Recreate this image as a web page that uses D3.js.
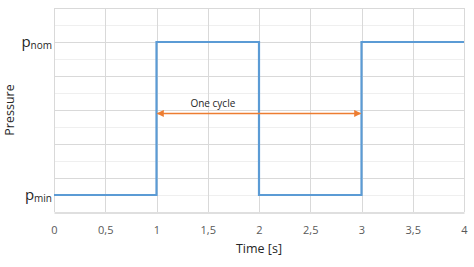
<!DOCTYPE html>
<html lang="en">
<head>
<meta charset="UTF-8">
<script src="https://cdnjs.cloudflare.com/ajax/libs/d3/7.8.5/d3.min.js"></script>
<style>
  body { margin: 0; background: #fff; }
  text { font-family: "Open Sans", "Noto Sans", sans-serif; }
</style>
</head>
<body>
<script>
    // data
    var times = [0, 1, 2, 3, 4];
    var levels = ['min', 'nom', 'min', 'nom', 'nom'];
    var xTicks = [0, 0.5, 1, 1.5, 2, 2.5, 3, 3.5, 4];
    var levelValue = {min: 1, nom: 10};
    var cycle = [1, 3];
    var cycleY = 5.8;

    var width = 474, height = 267;
    var pLeft = 54, pRight = 464, pTop = 8, pBottom = 212;

    var x = d3.scaleLinear().domain([0, 4]).range([pLeft, pRight]);
    var y = d3.scaleLinear().domain([0, 12]).range([pBottom, pTop]);

    var svg = d3.select('body').append('svg')
        .attr('width', width).attr('height', height);

    // minor horizontal grid
    svg.append('g').selectAll('line')
        .data(d3.range(1, 12, 2))
        .enter().append('line')
        .attr('x1', pLeft).attr('x2', pRight)
        .attr('y1', d => y(d) + 0.5).attr('y2', d => y(d) + 0.5)
        .attr('stroke', '#efefef').attr('stroke-width', 1);

    // major horizontal grid
    svg.append('g').selectAll('line')
        .data(d3.range(2, 13, 2))
        .enter().append('line')
        .attr('x1', pLeft).attr('x2', pRight)
        .attr('y1', d => y(d) + 0.5).attr('y2', d => y(d) + 0.5)
        .attr('stroke', '#d9d9d9').attr('stroke-width', 1);

    // vertical grid
    svg.append('g').selectAll('line')
        .data(xTicks)
        .enter().append('line')
        .attr('x1', d => Math.round(x(d)) + 0.5).attr('x2', d => Math.round(x(d)) + 0.5)
        .attr('y1', pTop).attr('y2', pBottom)
        .attr('stroke', '#d9d9d9').attr('stroke-width', 1);

    // x axis
    var axis = d3.axisBottom(x).tickValues(xTicks)
        .tickSize(0).tickPadding(14)
        .tickFormat(d => String(d).replace('.', ','));
    var ax = svg.append('g').attr('transform', 'translate(0,' + (pBottom + 0.5) + ')').call(axis);
    ax.select('.domain').attr('stroke', '#bfbfbf');
    ax.selectAll('text').attr('fill', '#595959').style('font-size', '11px')
        .style('font-family', '"Open Sans", sans-serif');

    // step line
    var line = d3.line()
        .x(d => x(d[0])).y(d => y(levelValue[d[1]]))
        .curve(d3.curveStepAfter);
    svg.append('path')
        .datum(times.map((t, i) => [t, levels[i]]))
        .attr('d', line)
        .attr('fill', 'none').attr('stroke', '#5b9bd5').attr('stroke-width', 2.2);

    // cycle arrow
    var defs = svg.append('defs');
    defs.append('marker').attr('id', 'arr')
        .attr('viewBox', '0 0 10 10').attr('refX', 9).attr('refY', 5)
        .attr('markerWidth', 9).attr('markerHeight', 7)
        .attr('markerUnits', 'userSpaceOnUse')
        .attr('orient', 'auto-start-reverse')
        .append('path').attr('d', 'M0,0 L10,5 L0,10 Z').attr('fill', '#ed7d31');
    svg.append('line')
        .attr('x1', x(cycle[0]) + 1).attr('x2', x(cycle[1]) - 1)
        .attr('y1', y(cycleY)).attr('y2', y(cycleY))
        .attr('stroke', '#ed7d31').attr('stroke-width', 1.5)
        .attr('marker-start', 'url(#arr)').attr('marker-end', 'url(#arr)');
    svg.append('text')
        .attr('x', x(1.55)).attr('y', y(cycleY) - 6)
        .attr('text-anchor', 'middle').attr('fill', '#262626')
        .style('font-size', '10px')
        .text('One cycle');

    // y labels p_nom / p_min
    ['nom', 'min'].forEach(function(k) {
        var t = svg.append('text')
            .attr('x', pLeft - 2).attr('y', y(levelValue[k]) + 5)
            .attr('text-anchor', 'end').attr('fill', '#262626')
            .style('font-size', '15px');
        t.append('tspan').text('p');
        t.append('tspan').attr('dy', 2).style('font-size', '10px').text(k);
    });

    // axis titles
    svg.append('text')
        .attr('x', (pLeft + pRight) / 2).attr('y', 253)
        .attr('text-anchor', 'middle').attr('fill', '#262626')
        .style('font-size', '12.5px').text('Time [s]');
    svg.append('text')
        .attr('transform', 'translate(14,' + ((pTop + pBottom) / 2) + ') rotate(-90)')
        .attr('text-anchor', 'middle').attr('fill', '#262626')
        .style('font-size', '12.5px').text('Pressure');
</script>
</body>
</html>
